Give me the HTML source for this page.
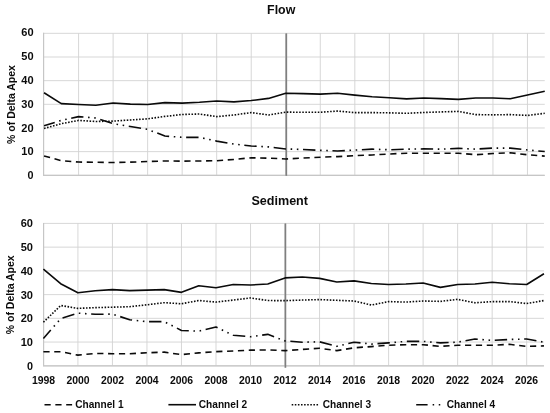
<!DOCTYPE html><html><head><meta charset="utf-8"><title>Flow and Sediment</title><style>html,body{margin:0;padding:0;background:#fff}svg{display:block}</style></head><body>
<svg width="550" height="413" viewBox="0 0 550 413" font-family="'Liberation Sans', sans-serif" font-weight="bold" fill="#0c0c0c">
<rect width="550" height="413" fill="#fff"/>
<g stroke="#d3d3d3" stroke-width="0.9" fill="none">
<line x1="43.0" y1="175.30" x2="544.74" y2="175.30"/>
<line x1="43.0" y1="151.64" x2="544.74" y2="151.64"/>
<line x1="43.0" y1="127.98" x2="544.74" y2="127.98"/>
<line x1="43.0" y1="104.32" x2="544.74" y2="104.32"/>
<line x1="43.0" y1="80.66" x2="544.74" y2="80.66"/>
<line x1="43.0" y1="57.00" x2="544.74" y2="57.00"/>
<line x1="43.0" y1="33.34" x2="544.74" y2="33.34"/>
<line x1="78.58" y1="33.34" x2="78.58" y2="175.30"/>
<line x1="113.11" y1="33.34" x2="113.11" y2="175.30"/>
<line x1="147.64" y1="33.34" x2="147.64" y2="175.30"/>
<line x1="182.17" y1="33.34" x2="182.17" y2="175.30"/>
<line x1="216.70" y1="33.34" x2="216.70" y2="175.30"/>
<line x1="251.23" y1="33.34" x2="251.23" y2="175.30"/>
<line x1="285.76" y1="33.34" x2="285.76" y2="175.30"/>
<line x1="320.29" y1="33.34" x2="320.29" y2="175.30"/>
<line x1="354.82" y1="33.34" x2="354.82" y2="175.30"/>
<line x1="389.35" y1="33.34" x2="389.35" y2="175.30"/>
<line x1="423.88" y1="33.34" x2="423.88" y2="175.30"/>
<line x1="458.41" y1="33.34" x2="458.41" y2="175.30"/>
<line x1="492.94" y1="33.34" x2="492.94" y2="175.30"/>
<line x1="527.47" y1="33.34" x2="527.47" y2="175.30"/>
<path d="M43.60 32.84V175.30H544.74" stroke="#c6c6c6" stroke-width="1.2"/>
</g>
<line x1="286.3" y1="33.34" x2="286.3" y2="175.80" stroke="#7f7f7f" stroke-width="1.7"/>
<g stroke="#0a0a0a" stroke-width="1.6" fill="none" stroke-linejoin="round">
<polyline points="44.05,155.90 61.31,160.63 78.58,162.05 95.84,162.29 113.11,162.52 130.38,162.17 147.64,161.46 164.91,160.99 182.17,161.10 199.44,160.99 216.70,160.75 233.97,159.45 251.23,157.79 268.50,158.15 285.76,158.97 303.03,158.03 320.29,157.20 337.56,156.61 354.82,155.66 372.09,154.95 389.35,154.01 406.62,153.18 423.88,153.30 441.15,153.30 458.41,153.18 475.68,154.72 492.94,153.53 510.21,152.82 527.47,154.72 544.74,156.14" stroke-dasharray="6.2 4.65"/>
<polyline points="44.05,128.45 61.31,123.72 78.58,120.41 95.84,121.47 113.11,121.12 130.38,119.94 147.64,118.87 164.91,116.39 182.17,114.49 199.44,114.02 216.70,116.62 233.97,114.97 251.23,112.60 268.50,114.97 285.76,112.13 303.03,112.25 320.29,112.25 337.56,111.06 354.82,112.60 372.09,112.60 389.35,112.84 406.62,113.31 423.88,112.48 441.15,111.89 458.41,111.42 475.68,114.61 492.94,114.85 510.21,114.61 527.47,115.44 544.74,113.31" stroke-dasharray="1.55 1.55"/>
<polyline points="44.05,125.85 61.31,120.41 78.58,116.62 95.84,118.04 113.11,123.72 130.38,126.56 147.64,129.40 164.91,136.02 182.17,137.33 199.44,137.33 216.70,141.11 233.97,144.07 251.23,145.96 268.50,146.91 285.76,148.92 303.03,149.51 320.29,150.34 337.56,150.93 354.82,150.10 372.09,149.16 389.35,149.75 406.62,149.16 423.88,148.92 441.15,149.16 458.41,148.33 475.68,149.16 492.94,148.09 510.21,148.09 527.47,149.98 544.74,151.52" stroke-dasharray="12.4 4.65 1.55 4.65 1.55 4.65" stroke-dashoffset="1.2"/>
<polyline points="44.05,92.73 61.31,103.61 78.58,104.56 95.84,105.27 113.11,103.02 130.38,104.08 147.64,104.56 164.91,102.66 182.17,103.14 199.44,102.31 216.70,101.01 233.97,101.84 251.23,100.53 268.50,98.41 285.76,93.20 303.03,93.67 320.29,94.15 337.56,93.20 354.82,95.09 372.09,96.75 389.35,97.81 406.62,98.88 423.88,98.05 441.15,98.64 458.41,99.35 475.68,97.93 492.94,97.93 510.21,98.76 527.47,94.97 544.74,91.19" />
</g>
<text x="33.6" y="179.27" text-anchor="end" font-size="10.8" >0</text>
<text x="33.6" y="155.45" text-anchor="end" font-size="10.8" textLength="12.3" lengthAdjust="spacingAndGlyphs" >10</text>
<text x="33.6" y="131.64" text-anchor="end" font-size="10.8" textLength="12.3" lengthAdjust="spacingAndGlyphs" >20</text>
<text x="33.6" y="107.82" text-anchor="end" font-size="10.8" textLength="12.3" lengthAdjust="spacingAndGlyphs" >30</text>
<text x="33.6" y="84.0" text-anchor="end" font-size="10.8" textLength="12.3" lengthAdjust="spacingAndGlyphs" >40</text>
<text x="33.6" y="60.19" text-anchor="end" font-size="10.8" textLength="12.3" lengthAdjust="spacingAndGlyphs" >50</text>
<text x="33.6" y="36.37" text-anchor="end" font-size="10.8" textLength="12.3" lengthAdjust="spacingAndGlyphs" >60</text>
<text x="281.2" y="14.3" text-anchor="middle" font-size="12.6" textLength="28.2" lengthAdjust="spacingAndGlyphs" >Flow</text>
<text transform="translate(15.0,104.5) rotate(-90)" text-anchor="middle" font-size="10.8" textLength="78.8" lengthAdjust="spacingAndGlyphs">% of Delta Apex</text>
<g stroke="#d3d3d3" stroke-width="0.9" fill="none">
<line x1="43.0" y1="365.80" x2="543.94" y2="365.80"/>
<line x1="43.0" y1="342.07" x2="543.94" y2="342.07"/>
<line x1="43.0" y1="318.34" x2="543.94" y2="318.34"/>
<line x1="43.0" y1="294.61" x2="543.94" y2="294.61"/>
<line x1="43.0" y1="270.88" x2="543.94" y2="270.88"/>
<line x1="43.0" y1="247.15" x2="543.94" y2="247.15"/>
<line x1="43.0" y1="223.42" x2="543.94" y2="223.42"/>
<line x1="77.92" y1="223.42" x2="77.92" y2="365.80"/>
<line x1="112.44" y1="223.42" x2="112.44" y2="365.80"/>
<line x1="146.96" y1="223.42" x2="146.96" y2="365.80"/>
<line x1="181.48" y1="223.42" x2="181.48" y2="365.80"/>
<line x1="216.00" y1="223.42" x2="216.00" y2="365.80"/>
<line x1="250.52" y1="223.42" x2="250.52" y2="365.80"/>
<line x1="285.04" y1="223.42" x2="285.04" y2="365.80"/>
<line x1="319.56" y1="223.42" x2="319.56" y2="365.80"/>
<line x1="354.08" y1="223.42" x2="354.08" y2="365.80"/>
<line x1="388.60" y1="223.42" x2="388.60" y2="365.80"/>
<line x1="423.12" y1="223.42" x2="423.12" y2="365.80"/>
<line x1="457.64" y1="223.42" x2="457.64" y2="365.80"/>
<line x1="492.16" y1="223.42" x2="492.16" y2="365.80"/>
<line x1="526.68" y1="223.42" x2="526.68" y2="365.80"/>
<path d="M43.60 222.92V365.80H543.94" stroke="#c6c6c6" stroke-width="1.2"/>
</g>
<line x1="285.4" y1="223.42" x2="285.4" y2="367.80" stroke="#7f7f7f" stroke-width="1.7"/>
<g stroke="#0a0a0a" stroke-width="1.6" fill="none" stroke-linejoin="round">
<polyline points="43.40,351.68 60.66,351.68 77.92,355.12 95.18,353.46 112.44,353.70 129.70,353.70 146.96,352.75 164.22,352.16 181.48,354.65 198.74,352.87 216.00,351.68 233.26,350.97 250.52,350.14 267.78,349.90 285.04,350.61 302.30,349.43 319.56,348.24 336.82,350.61 354.08,347.77 371.34,346.58 388.60,345.27 405.86,344.68 423.12,344.68 440.38,346.34 457.64,345.27 474.90,345.27 492.16,345.27 509.42,344.32 526.68,346.34 543.94,345.87" stroke-dasharray="6.2 4.65"/>
<polyline points="43.40,322.26 60.66,305.53 77.92,308.37 95.18,307.66 112.44,307.19 129.70,306.71 146.96,304.81 164.22,302.68 181.48,303.75 198.74,300.54 216.00,302.08 233.26,300.07 250.52,297.93 267.78,300.54 285.04,300.66 302.30,300.07 319.56,299.59 336.82,300.31 354.08,301.02 371.34,305.05 388.60,301.61 405.86,302.08 423.12,301.02 440.38,301.37 457.64,299.36 474.90,302.80 492.16,301.61 509.42,301.61 526.68,303.51 543.94,300.54" stroke-dasharray="1.55 1.55"/>
<polyline points="43.40,338.51 60.66,318.70 77.92,313.12 95.18,314.31 112.44,314.07 129.70,319.76 146.96,321.66 164.22,321.66 181.48,330.44 198.74,331.15 216.00,327.00 233.26,335.31 250.52,336.73 267.78,334.36 285.04,340.88 302.30,342.19 319.56,341.83 336.82,346.34 354.08,342.19 371.34,344.09 388.60,342.90 405.86,341.36 423.12,341.36 440.38,342.90 457.64,342.19 474.90,338.99 492.16,340.41 509.42,339.46 526.68,338.99 543.94,342.19" stroke-dasharray="12.4 4.65 1.55 4.65 1.55 4.65" stroke-dashoffset="1.2"/>
<polyline points="43.40,269.10 60.66,283.69 77.92,292.83 95.18,290.81 112.44,289.63 129.70,290.58 146.96,290.10 164.22,289.63 181.48,292.36 198.74,285.71 216.00,287.73 233.26,284.52 250.52,285.00 267.78,284.05 285.04,277.88 302.30,276.93 319.56,278.35 336.82,282.03 354.08,280.85 371.34,283.46 388.60,284.52 405.86,284.05 423.12,282.98 440.38,287.37 457.64,284.52 474.90,283.93 492.16,282.27 509.42,283.69 526.68,284.52 543.94,273.73" />
</g>
<text x="33.0" y="369.75" text-anchor="end" font-size="10.8" >0</text>
<text x="33.0" y="346.02" text-anchor="end" font-size="10.8" textLength="12.3" lengthAdjust="spacingAndGlyphs" >10</text>
<text x="33.0" y="322.29" text-anchor="end" font-size="10.8" textLength="12.3" lengthAdjust="spacingAndGlyphs" >20</text>
<text x="33.0" y="298.56" text-anchor="end" font-size="10.8" textLength="12.3" lengthAdjust="spacingAndGlyphs" >30</text>
<text x="33.0" y="274.83" text-anchor="end" font-size="10.8" textLength="12.3" lengthAdjust="spacingAndGlyphs" >40</text>
<text x="33.0" y="251.1" text-anchor="end" font-size="10.8" textLength="12.3" lengthAdjust="spacingAndGlyphs" >50</text>
<text x="33.0" y="227.37" text-anchor="end" font-size="10.8" textLength="12.3" lengthAdjust="spacingAndGlyphs" >60</text>
<text x="279.7" y="205" text-anchor="middle" font-size="12.6" textLength="56.6" lengthAdjust="spacingAndGlyphs" >Sediment</text>
<text transform="translate(14.4,294.8) rotate(-90)" text-anchor="middle" font-size="10.8" textLength="78.8" lengthAdjust="spacingAndGlyphs">% of Delta Apex</text>
<text x="43.5" y="384.35" text-anchor="middle" font-size="10.8" textLength="23.2" lengthAdjust="spacingAndGlyphs" >1998</text>
<text x="78.0" y="384.35" text-anchor="middle" font-size="10.8" textLength="23.2" lengthAdjust="spacingAndGlyphs" >2000</text>
<text x="112.5" y="384.35" text-anchor="middle" font-size="10.8" textLength="23.2" lengthAdjust="spacingAndGlyphs" >2002</text>
<text x="147.0" y="384.35" text-anchor="middle" font-size="10.8" textLength="23.2" lengthAdjust="spacingAndGlyphs" >2004</text>
<text x="181.5" y="384.35" text-anchor="middle" font-size="10.8" textLength="23.2" lengthAdjust="spacingAndGlyphs" >2006</text>
<text x="216.0" y="384.35" text-anchor="middle" font-size="10.8" textLength="23.2" lengthAdjust="spacingAndGlyphs" >2008</text>
<text x="250.5" y="384.35" text-anchor="middle" font-size="10.8" textLength="23.2" lengthAdjust="spacingAndGlyphs" >2010</text>
<text x="285.0" y="384.35" text-anchor="middle" font-size="10.8" textLength="23.2" lengthAdjust="spacingAndGlyphs" >2012</text>
<text x="319.5" y="384.35" text-anchor="middle" font-size="10.8" textLength="23.2" lengthAdjust="spacingAndGlyphs" >2014</text>
<text x="354.0" y="384.35" text-anchor="middle" font-size="10.8" textLength="23.2" lengthAdjust="spacingAndGlyphs" >2016</text>
<text x="388.5" y="384.35" text-anchor="middle" font-size="10.8" textLength="23.2" lengthAdjust="spacingAndGlyphs" >2018</text>
<text x="423.0" y="384.35" text-anchor="middle" font-size="10.8" textLength="23.2" lengthAdjust="spacingAndGlyphs" >2020</text>
<text x="457.5" y="384.35" text-anchor="middle" font-size="10.8" textLength="23.2" lengthAdjust="spacingAndGlyphs" >2022</text>
<text x="492.0" y="384.35" text-anchor="middle" font-size="10.8" textLength="23.2" lengthAdjust="spacingAndGlyphs" >2024</text>
<text x="526.5" y="384.35" text-anchor="middle" font-size="10.8" textLength="23.2" lengthAdjust="spacingAndGlyphs" >2026</text>
<line x1="44.5" y1="404.7" x2="72.1" y2="404.7" stroke="#0a0a0a" stroke-width="1.6" stroke-dasharray="6.2 4.65"/>
<text x="75.2" y="408.2" text-anchor="start" font-size="10.8" textLength="48.4" lengthAdjust="spacingAndGlyphs" >Channel 1</text>
<line x1="168.4" y1="404.7" x2="196.0" y2="404.7" stroke="#0a0a0a" stroke-width="1.6" />
<text x="198.8" y="408.2" text-anchor="start" font-size="10.8" textLength="48.4" lengthAdjust="spacingAndGlyphs" >Channel 2</text>
<line x1="291.7" y1="404.7" x2="319.3" y2="404.7" stroke="#0a0a0a" stroke-width="1.6" stroke-dasharray="1.55 1.55"/>
<text x="322.7" y="408.2" text-anchor="start" font-size="10.8" textLength="48.4" lengthAdjust="spacingAndGlyphs" >Channel 3</text>
<path d="M416.2 404.7h11.4M432.65 404.7h1.5M438.75 404.7h1.5" stroke="#0a0a0a" stroke-width="1.6" fill="none"/>
<text x="446.8" y="408.2" text-anchor="start" font-size="10.8" textLength="48.4" lengthAdjust="spacingAndGlyphs" >Channel 4</text>
</svg></body></html>
